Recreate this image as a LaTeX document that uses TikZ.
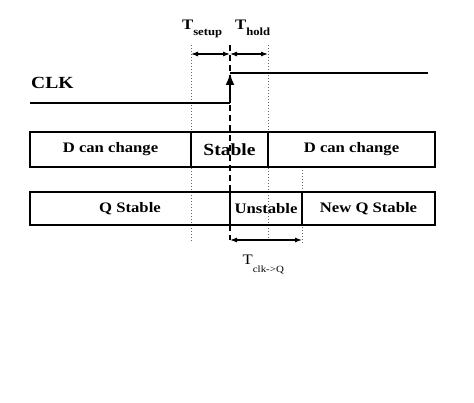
\documentclass[tikz,border=0pt]{standalone}
\usepackage{fontspec}
\setmainfont{Liberation Serif}
\usetikzlibrary{arrows.meta}
\newcommand{\hs}[1]{\scalebox{1.15}[1]{#1}}
\tikzset{
  sig/.style={line width=2.4pt},
  rowbox/.style={draw, line width=1.4pt, inner sep=0pt, font=\fontsize{14.5}{14.5}\selectfont\bfseries},
  dbox/.style={rowbox, minimum height=35pt},
  qbox/.style={rowbox, minimum height=33pt},
  guide/.style={draw=black!60, line width=0.9pt, dash pattern=on 1.5pt off 1.5pt},
  edge/.style={line width=2.4pt, dash pattern=on 6pt off 4pt},
  span/.style={line width=1.1pt, {Latex[length=7pt,width=5pt]}-{Latex[length=7pt,width=5pt]}},
  lbl/.style={inner sep=0pt, anchor=base west}
}
\begin{document}
\begin{tikzpicture}[x=1pt,y=-1pt]
\useasboundingbox (0,0) rectangle (474,403);
% coordinates
\coordinate (g1t) at (191,45);  \coordinate (g1b) at (191,243);
\coordinate (g2t) at (268,45);  \coordinate (g2b) at (268,243);
\coordinate (g3t) at (302,167); \coordinate (g3b) at (302,243);
\coordinate (et) at (230,45);   \coordinate (eb) at (230,240);
\coordinate (clk0) at (30,103); \coordinate (clkr) at (230,103);
\coordinate (clkt) at (230,73); \coordinate (clkh) at (428,73);
\coordinate (su1) at (191,54);  \coordinate (su2) at (230,54);  \coordinate (ho2) at (268,54);
\coordinate (cq1) at (230,240); \coordinate (cq2) at (302,240);
% guides
\draw[guide] (g1t) -- (g1b);
\draw[guide] (g2t) -- (g2b);
\draw[guide] (g3t) -- (g3b);
% boxes
\node[dbox, minimum width=161pt] (d1) at (110.5,149.5) {\hs{D can change}};
\node[dbox, minimum width=77pt, font=\fontsize{17}{17}\selectfont\bfseries] (d2) at (229.5,149.5) {\hs{Stable}};
\node[dbox, minimum width=167pt] (d3) at (351.5,149.5) {\hs{D can change}};
\node[qbox, minimum width=200pt] (q1) at (130,208.5) {\hs{Q Stable}};
\node[qbox, minimum width=72pt] (q2) at (266,208.5) {\hs{Unstable}};
\node[qbox, minimum width=133pt] (q3) at (368.5,208.5) {\hs{New Q Stable}};
% clock
\draw[sig] (clk0) -- (clkr);
\draw[edge] (et) -- (eb);
\draw[sig, -{Latex[length=12pt,width=9pt]}] (clkr) -- (clkt);
\draw[sig] (clkt) -- (clkh);
% spans
\draw[span] (su1) -- (su2);
\draw[span] (su2) -- (ho2);
\draw[span] (cq1) -- (cq2);
% labels
\node[lbl, font=\fontsize{17}{17}\selectfont\bfseries] (clk) at (31,88.3) {\hs{CLK}};
\node[lbl, font=\bfseries] (tsu) at (182,29.5) {\hs{{\fontsize{14.5}{14.5}\selectfont T}\raisebox{-6.5pt}{\fontsize{11}{11}\selectfont setup}}};
\node[lbl, font=\bfseries] (tho) at (235,29.5) {\hs{{\fontsize{14.5}{14.5}\selectfont T}\raisebox{-6.5pt}{\fontsize{11}{11}\selectfont hold}}};
\node[lbl] (tcq) at (242.5,265) {\hs{{\fontsize{14.5}{14.5}\selectfont T}\raisebox{-8pt}{\fontsize{9.5}{9.5}\selectfont clk->Q}}};
\end{tikzpicture}
\end{document}
